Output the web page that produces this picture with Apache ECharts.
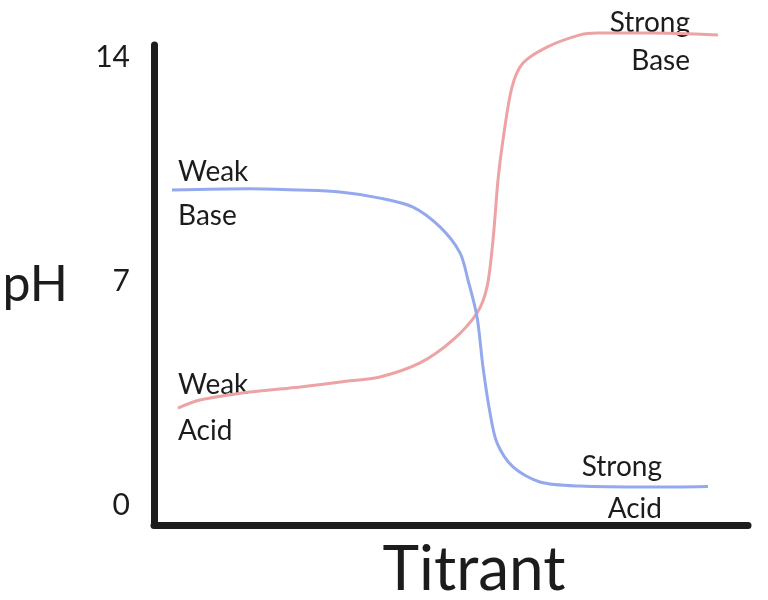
<!DOCTYPE html>
<html>
<head>
<meta charset="utf-8">
<script src="https://cdn.jsdelivr.net/npm/echarts@6/dist/echarts.min.js"></script>
<style>
  html, body { margin: 0; padding: 0; background: #fff; }
  #chart { width: 768px; height: 600px; }
</style>
</head>
<body>
<div id="chart"></div>
<script>
// titrant amount (arbitrary units) and pH
var acidTitrant = [24, 46, 96, 146, 196, 226, 266, 299, 323, 333, 339, 344, 349, 358, 369, 393, 426, 443, 496, 564]
var acidPH = [3.03, 3.28, 3.53, 3.69, 3.88, 4.0, 4.44, 5.16, 6.0, 6.81, 8.28, 10.16, 11.41, 13.06, 13.81, 14.31, 14.69, 14.75, 14.75, 14.69]
var baseTitrant = [18, 96, 146, 186, 226, 259, 286, 306, 314, 323, 329, 336, 343, 359, 386, 426, 496, 554]
var basePH = [9.84, 9.88, 9.84, 9.78, 9.59, 9.31, 8.69, 7.88, 7.03, 5.88, 4.31, 2.88, 1.94, 1.19, 0.72, 0.59, 0.56, 0.58]
var phTicks = [0, 7, 14]

var font = 'Lato'
var ink = '#1c1c1c'

function pairs(xs, ys) {
  var out = []
  for (var i = 0; i < xs.length; i++) {
    out.push([xs[i], ys[i]])
  }
  return out
}

var myChart = echarts.init(document.getElementById('chart'))
var option = {
  backgroundColor: '#fff',
  animation: false,
  grid: { left: 154, right: 20, top: 45, bottom: 75, containLabel: false, outerBoundsMode: 'none' },
  xAxis: {
    type: 'value',
    min: 0,
    max: 594,
    name: 'Titrant',
    nameLocation: 'middle',
    nameGap: 14,
    nameTextStyle: { fontFamily: font, fontSize: 62, color: ink, padding: [0, 0, 0, 46] },
    axisLine: { onZero: false, lineStyle: { color: ink, width: 7, cap: 'round' } },
    axisTick: { show: false },
    axisLabel: { show: false },
    splitLine: { show: false }
  },
  yAxis: {
    type: 'value',
    min: -0.625,
    max: 14.375,
    name: 'pH',
    nameLocation: 'middle',
    nameRotate: 0,
    nameGap: 86,
    nameTextStyle: { fontFamily: font, fontSize: 50, color: ink, padding: [14, 0, 0, 0] },
    axisLine: { show: true, onZero: false, lineStyle: { color: ink, width: 7, cap: 'round' } },
    axisTick: { show: false },
    axisLabel: {
      customValues: phTicks,
      margin: 24,
      fontFamily: font,
      fontSize: 30,
      color: ink
    },
    splitLine: { show: false }
  },
  series: [
    {
      name: 'Weak Acid',
      type: 'line',
      smooth: 0.3,
      clip: false,
      symbol: 'none',
      lineStyle: { color: '#eda3a3', width: 3 },
      data: pairs(acidTitrant, acidPH)
    },
    {
      name: 'Weak Base',
      type: 'line',
      smooth: 0.3,
      clip: false,
      symbol: 'none',
      lineStyle: { color: '#94a8ee', width: 3 },
      data: pairs(baseTitrant, basePH)
    }
  ],
  graphic: [
    { type: 'text', left: 178, top: 150, style: { text: 'Weak\nBase', font: '28px ' + font, fill: ink, lineHeight: 44 } },
    { type: 'text', left: 178, top: 362, style: { text: 'Weak\nAcid', font: '28px ' + font, fill: ink, lineHeight: 46 } },
    { type: 'text', x: 690, y: 4, style: { text: 'Strong\nBase', font: '28px ' + font, fill: ink, align: 'right', lineHeight: 38 } },
    { type: 'text', x: 662, y: 446, style: { text: 'Strong\nAcid', font: '28px ' + font, fill: ink, align: 'right', lineHeight: 42 } }
  ]
}
option && myChart.setOption(option)
</script>
</body>
</html>
